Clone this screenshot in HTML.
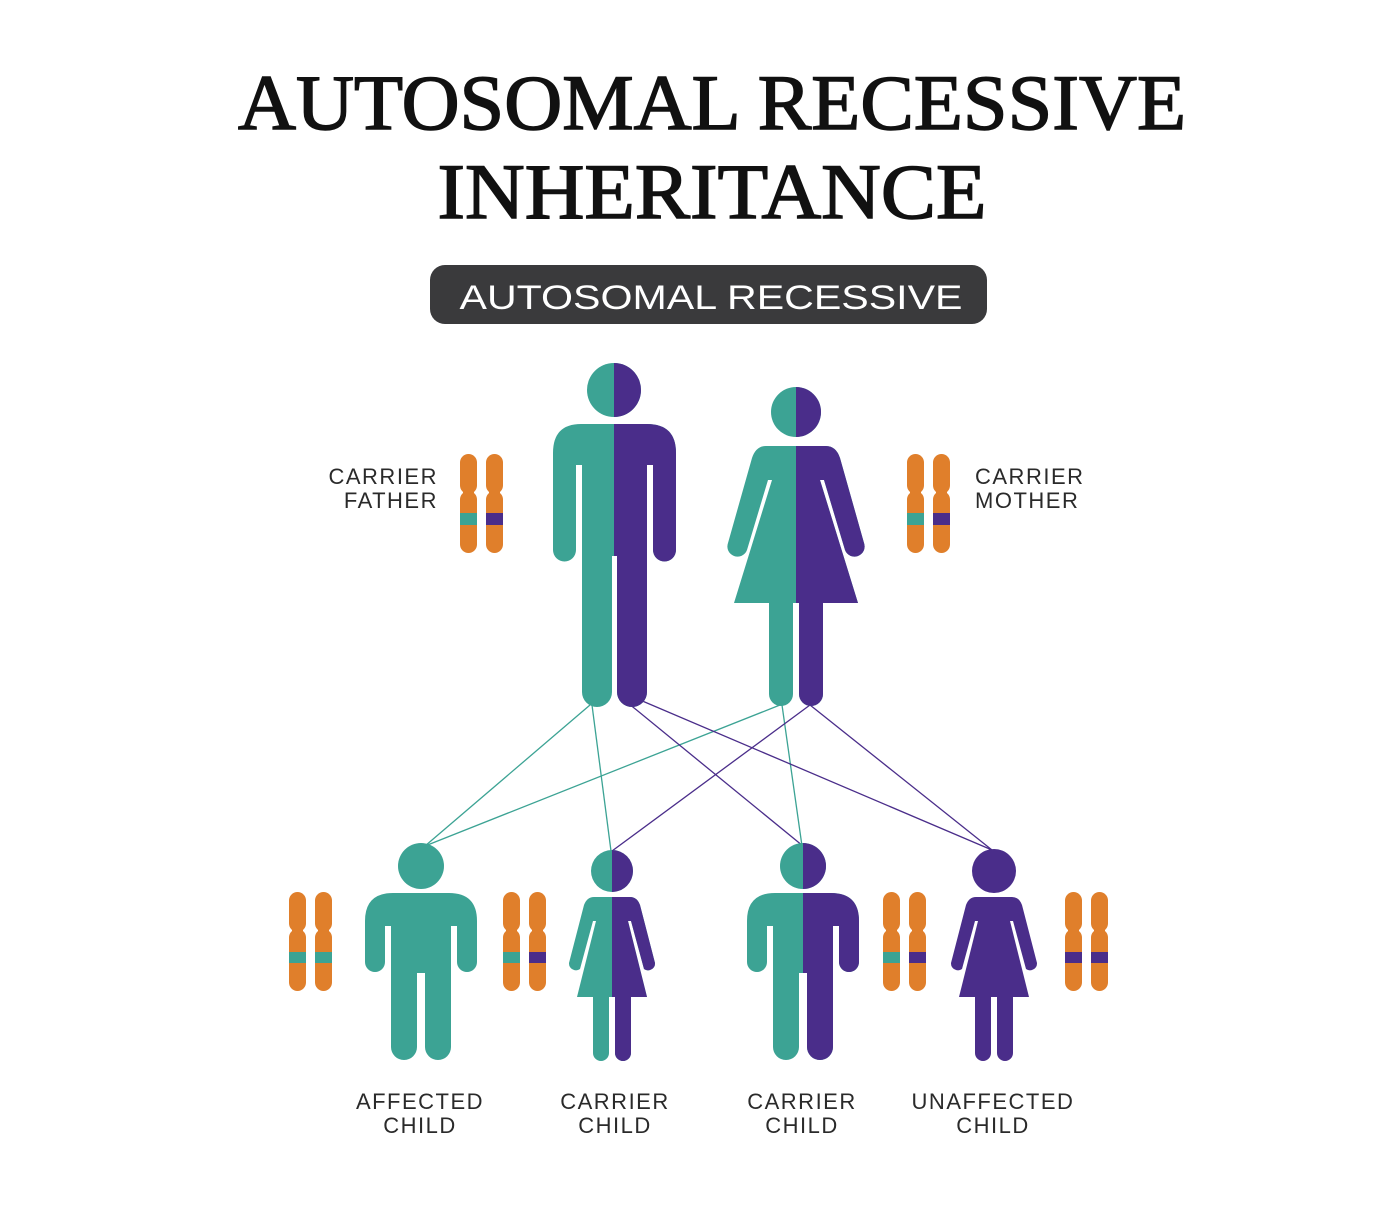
<!DOCTYPE html>
<html><head><meta charset="utf-8">
<style>
html,body{margin:0;padding:0;background:#fff;}
svg{display:block;}
.lbl{font-family:"Liberation Sans",sans-serif;font-size:22px;fill:#2a2a2a;letter-spacing:1.5px;}
</style></head>
<body>
<svg width="1400" height="1232" viewBox="0 0 1400 1232" xmlns="http://www.w3.org/2000/svg">
<defs>
  <clipPath id="R" clipPathUnits="userSpaceOnUse"><rect x="0" y="-200" width="300" height="600"/></clipPath>
  <path id="man" d="M -33,0 H 33 Q 62,0 62,29 V 126 A 11.5 11.5 0 0 1 39,126 V 41 H 33 V 268 A 15 15 0 0 1 3,268 V 132 H -2 V 268 A 15 15 0 0 1 -32,268 V 41 H -38 V 126 A 11.5 11.5 0 0 1 -61,126 V 29 Q -61,0 -33,0 Z"/>
  <path id="boy" d="M -28,0 H 28 Q 56,0 56,28 V 69 A 10 10 0 0 1 36,69 V 33 H 30 V 154 A 13 13 0 0 1 4,154 V 80 H -4 V 154 A 13 13 0 0 1 -30,154 V 33 H -36 V 69 A 10 10 0 0 1 -56,69 V 28 Q -56,0 -28,0 Z"/>
  <path id="woman" d="M -62,157 H -27 V 248 A 12 12 0 0 0 -3,248 V 157 H 3 V 248 A 12 12 0 0 0 27,248 V 157 H 62 L 24,34 H 28 L 49,104 A 10 10 0 0 0 68,97 L 44,12 Q 40,0 30,0 H -30 Q -40,0 -44,12 L -68,97 A 10 10 0 0 0 -49,104 L -28,34 H -24 Z"/>
  <path id="girl" d="M -35,100 H -19 V 156 A 8 8 0 0 0 -3,156 V 100 H 3 V 156 A 8 8 0 0 0 19,156 V 100 H 35 L 16,24 H 19 L 32,72 A 7 7 0 0 0 43,66 L 28,8 Q 25,0 18,0 H -18 Q -25,0 -28,8 L -43,66 A 7 7 0 0 0 -32,72 L -19,24 H -16 Z"/>
  <g id="chr">
    <rect x="0" y="0" width="17" height="40" rx="8.5" fill="#e07f2b"/>
    <rect x="0" y="37" width="17" height="62" rx="8.5" fill="#e07f2b"/>
    <rect x="3" y="34" width="11" height="8" fill="#e07f2b"/>
  </g>
</defs>

<g font-family="'Liberation Serif',serif" font-weight="normal" fill="#111" stroke="#111" stroke-width="1.5" text-anchor="middle">
  <text x="712" y="129" font-size="78" textLength="948" lengthAdjust="spacingAndGlyphs">AUTOSOMAL RECESSIVE</text>
  <text x="712" y="218" font-size="78" textLength="549" lengthAdjust="spacingAndGlyphs">INHERITANCE</text>
</g>
<rect x="430" y="265" width="557" height="59" rx="15" fill="#3a3a3c"/>
<text x="711" y="309" font-family="'Liberation Sans',sans-serif" font-size="34" fill="#fff" text-anchor="middle" textLength="503" lengthAdjust="spacingAndGlyphs">AUTOSOMAL RECESSIVE</text>

<g stroke-width="1.3" fill="none">
  <line x1="590" y1="705" x2="425" y2="846" stroke="#3ca394"/>
  <line x1="592" y1="705" x2="611" y2="851" stroke="#3ca394"/>
  <line x1="780" y1="705" x2="425" y2="846" stroke="#3ca394"/>
  <line x1="782" y1="705" x2="802" y2="846" stroke="#3ca394"/>
  <line x1="628" y1="703" x2="803" y2="846" stroke="#4a2d8a"/>
  <line x1="640" y1="700" x2="992" y2="850" stroke="#4a2d8a"/>
  <line x1="810" y1="705" x2="612" y2="851" stroke="#4a2d8a"/>
  <line x1="810" y1="705" x2="992" y2="850" stroke="#4a2d8a"/>
</g>

<g transform="translate(614,424)">
  <circle cx="0" cy="-34" r="27" fill="#3ca394"/><use href="#man" fill="#3ca394"/>
  <g clip-path="url(#R)"><circle cx="0" cy="-34" r="27" fill="#4a2d8a"/><use href="#man" fill="#4a2d8a"/></g>
</g>
<g transform="translate(796,446)">
  <circle cx="0" cy="-34" r="25" fill="#3ca394"/><use href="#woman" fill="#3ca394"/>
  <g clip-path="url(#R)"><circle cx="0" cy="-34" r="25" fill="#4a2d8a"/><use href="#woman" fill="#4a2d8a"/></g>
</g>
<g transform="translate(421,893)">
  <circle cx="0" cy="-27" r="23" fill="#3ca394"/><use href="#boy" fill="#3ca394"/>
</g>
<g transform="translate(612,897)">
  <circle cx="0" cy="-26" r="21" fill="#3ca394"/><use href="#girl" fill="#3ca394"/>
  <g clip-path="url(#R)"><circle cx="0" cy="-26" r="21" fill="#4a2d8a"/><use href="#girl" fill="#4a2d8a"/></g>
</g>
<g transform="translate(803,893)">
  <circle cx="0" cy="-27" r="23" fill="#3ca394"/><use href="#boy" fill="#3ca394"/>
  <g clip-path="url(#R)"><circle cx="0" cy="-27" r="23" fill="#4a2d8a"/><use href="#boy" fill="#4a2d8a"/></g>
</g>
<g transform="translate(994,897)">
  <circle cx="0" cy="-26" r="22" fill="#4a2d8a"/><use href="#girl" fill="#4a2d8a"/>
</g>

<g transform="translate(460,454)"><use href="#chr"/><rect x="0" y="59" width="17" height="12" fill="#3ca394"/></g>
<g transform="translate(486,454)"><use href="#chr"/><rect x="0" y="59" width="17" height="12" fill="#4a2d8a"/></g>
<g transform="translate(907,454)"><use href="#chr"/><rect x="0" y="59" width="17" height="12" fill="#3ca394"/></g>
<g transform="translate(933,454)"><use href="#chr"/><rect x="0" y="59" width="17" height="12" fill="#4a2d8a"/></g>

<g transform="translate(289,892)"><use href="#chr"/><rect x="0" y="60" width="17" height="11" fill="#3ca394"/></g>
<g transform="translate(315,892)"><use href="#chr"/><rect x="0" y="60" width="17" height="11" fill="#3ca394"/></g>
<g transform="translate(503,892)"><use href="#chr"/><rect x="0" y="60" width="17" height="11" fill="#3ca394"/></g>
<g transform="translate(529,892)"><use href="#chr"/><rect x="0" y="60" width="17" height="11" fill="#4a2d8a"/></g>
<g transform="translate(883,892)"><use href="#chr"/><rect x="0" y="60" width="17" height="11" fill="#3ca394"/></g>
<g transform="translate(909,892)"><use href="#chr"/><rect x="0" y="60" width="17" height="11" fill="#4a2d8a"/></g>
<g transform="translate(1065,892)"><use href="#chr"/><rect x="0" y="60" width="17" height="11" fill="#4a2d8a"/></g>
<g transform="translate(1091,892)"><use href="#chr"/><rect x="0" y="60" width="17" height="11" fill="#4a2d8a"/></g>

<g class="lbl">
  <text x="438" y="484" text-anchor="end">CARRIER</text>
  <text x="438" y="508" text-anchor="end">FATHER</text>
  <text x="975" y="484">CARRIER</text>
  <text x="975" y="508">MOTHER</text>
  <g text-anchor="middle">
    <text x="420" y="1109">AFFECTED</text><text x="420" y="1133">CHILD</text>
    <text x="615" y="1109">CARRIER</text><text x="615" y="1133">CHILD</text>
    <text x="802" y="1109">CARRIER</text><text x="802" y="1133">CHILD</text>
    <text x="993" y="1109">UNAFFECTED</text><text x="993" y="1133">CHILD</text>
  </g>
</g>
</svg>
</body></html>
